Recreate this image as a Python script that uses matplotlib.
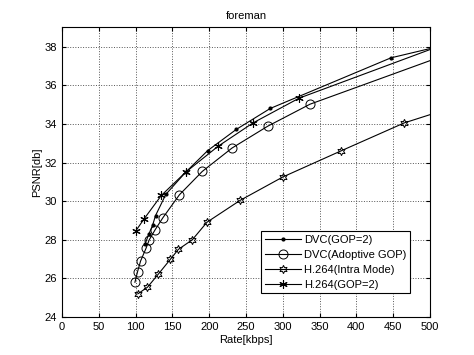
import matplotlib
matplotlib.use('Agg')
import matplotlib.pyplot as plt

plt.rcParams['font.family'] = ['Liberation Sans', 'DejaVu Sans']

# DVC(GOP=2)
dvc_gop2_rate = [113, 118, 123, 127, 141, 168, 198, 237, 283, 447, 520]
dvc_gop2_psnr = [27.8, 28.3, 28.75, 29.25, 30.35, 31.5, 32.62, 33.72, 34.8, 37.42, 38.08]

# DVC(Adoptive GOP)
dvc_adapt_rate = [99, 102.6, 106.7, 114, 118.5, 126.5, 137, 159.5, 190.6, 231, 279.5, 337, 520]
dvc_adapt_psnr = [25.8, 26.35, 26.9, 27.55, 28.0, 28.52, 29.14, 30.33, 31.54, 32.75, 33.88, 35.02, 37.55]

# H.264(Intra Mode)
intra_rate = [103, 116, 131, 147, 158, 177, 197, 242, 300, 379, 465, 520]
intra_psnr = [25.2, 25.54, 26.23, 26.98, 27.5, 28.0, 28.91, 30.04, 31.25, 32.6, 34.05, 34.72]

# H.264(GOP=2)
h264_gop2_rate = [100, 111.6, 135, 168, 212, 259.5, 322, 520]
h264_gop2_psnr = [28.45, 29.09, 30.3, 31.5, 32.84, 34.05, 35.33, 38.13]

fig = plt.figure(figsize=(4.74, 3.55), dpi=100)
ax = fig.add_axes([0.131, 0.107, 0.776, 0.816])

lw = 0.8
ax.plot(dvc_gop2_rate, dvc_gop2_psnr, color='black', linewidth=lw,
        marker='.', markersize=4, label='DVC(GOP=2)')
ax.plot(dvc_adapt_rate, dvc_adapt_psnr, color='black', linewidth=lw,
        marker='o', markersize=6.5, markerfacecolor='none', markeredgewidth=0.7,
        label='DVC(Adoptive GOP)')
ax.plot(intra_rate, intra_psnr, color='black', linewidth=lw,
        marker=(6, 1, 0), markersize=6, markerfacecolor='none', markeredgewidth=0.7,
        label='H.264(Intra Mode)')
ax.plot(h264_gop2_rate, h264_gop2_psnr, color='black', linewidth=lw,
        marker=(6, 2, 0), markersize=6, markeredgewidth=0.8,
        label='H.264(GOP=2)')

ax.set_xlim(0, 500)
ax.set_ylim(24, 39)
ax.set_xticks(range(0, 501, 50))
ax.set_yticks(range(24, 39, 2))
ax.tick_params(direction='in', top=True, right=True, labelsize=8, length=3)
ax.grid(True, linestyle=':', color='#555555', linewidth=0.7)
for s in ax.spines.values():
    s.set_linewidth(0.8)

ax.set_xlabel('Rate[kbps]', fontsize=8, labelpad=2)
ax.set_ylabel('PSNR[db]', fontsize=8, labelpad=2)
ax.set_title('foreman', fontsize=8, pad=6)

leg = ax.legend(loc='lower right', bbox_to_anchor=(0.962, 0.062), fontsize=8,
                fancybox=False, framealpha=1, edgecolor='black',
                handlelength=3.2, borderpad=0.35, labelspacing=0.45, handletextpad=0.3)
leg.get_frame().set_linewidth(0.8)

fig.savefig('out.png', dpi=100)
